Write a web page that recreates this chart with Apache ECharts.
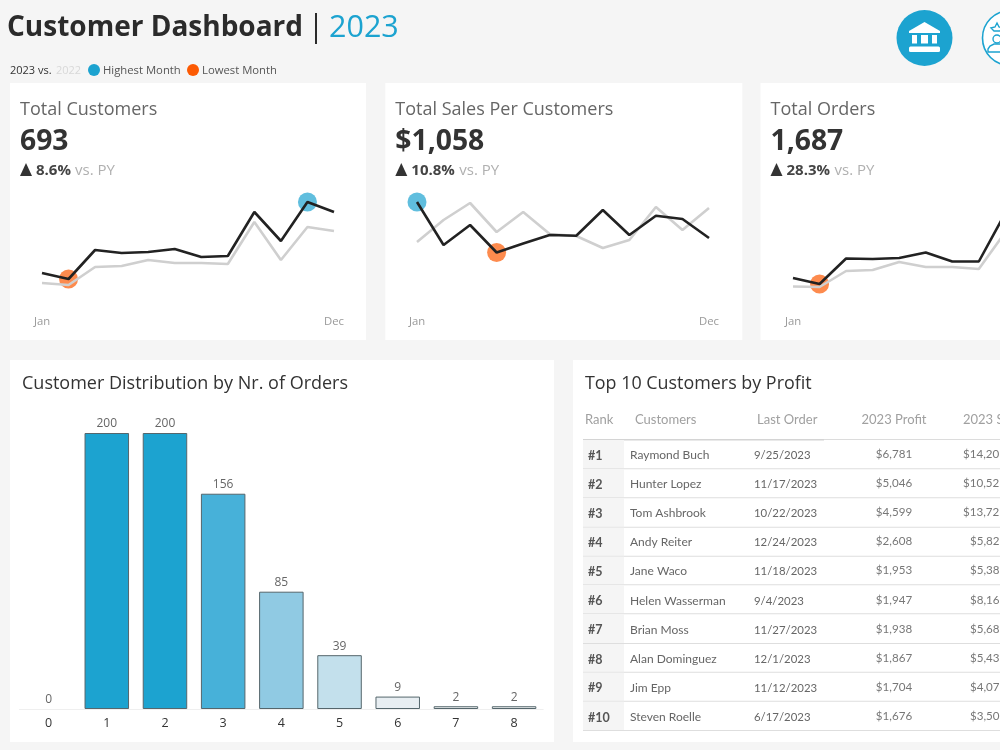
<!DOCTYPE html>
<html><head><meta charset="utf-8">
<style>html,body{margin:0;padding:0;background:#f5f5f5;overflow:hidden}#c{width:1000px;height:750px}</style>
<script src="https://cdn.jsdelivr.net/npm/echarts@6/dist/echarts.min.js"></script>
</head><body><div id="c"></div>
<script>
const months = ['Jan','Feb','Mar','Apr','May','Jun','Jul','Aug','Sep','Oct','Nov','Dec'];
const customers2023 = [37,31,60,57,58,61,53,54,98,69,108,98];
const customers2022 = [27,25,43,44,50,47,47,46,88,50,83,79];
const sales2023 = [1080,650,850,575,665,750,743,1000,750,943,910,720];
const sales2022 = [680,900,1070,780,980,760,740,620,700,1030,800,1020];
const orders2023 = [64,52,103,102,104,115,97,97,194];
const orders2022 = [47,46,78,80,96,86,86,82,156];
const orderBuckets = ['0','1','2','3','4','5','6','7','8'];
const customerCounts = [0,200,200,156,85,39,9,2,2];
const barColors = ['#1ca3d0','#1ca3d0','#1ca3d0','#47b1d9','#90cae3','#c3e0ec','#e8eef2','#f0f3f5','#f0f3f5'];
const ranks = ['#1','#2','#3','#4','#5','#6','#7','#8','#9','#10'];
const names = ['Raymond Buch','Hunter Lopez','Tom Ashbrook','Andy Reiter','Jane Waco','Helen Wasserman','Brian Moss','Alan Dominguez','Jim Epp','Steven Roelle'];
const lastOrders = ['9/25/2023','11/17/2023','10/22/2023','12/24/2023','11/18/2023','9/4/2023','11/27/2023','12/1/2023','11/12/2023','6/17/2023'];
const profits = ['$6,781','$5,046','$4,599','$2,608','$1,953','$1,947','$1,938','$1,867','$1,704','$1,676'];
const salesCol = ['$14,20','$10,52','$13,72','$5,82','$5,38','$8,16','$5,68','$5,43','$4,07','$3,50'];
const rowCenters = [455,484,513,542,571,600.5,629.5,659,687.5,717];
const rowLines = [468.3,497.3,526.7,555.7,584.3,613.3,643,671.7,700.7,730];

const F = '"Open Sans"', L = 'Lato';
const BLUE = '#1ca3d0', ORANGE = '#fc5a03';
const g = [];
const T = (x,y,text,size,fill,weight,align,font) => g.push({type:'text',x,y,z:1,silent:true,style:{text,fill,
  font:(weight||'normal')+' '+size+'px '+(font||F),textAlign:align||'left',textVerticalAlign:'middle'}});
const R = (x,y,w,h,fill) => g.push({type:'rect',z:0,silent:true,shape:{x,y,width:w,height:h},style:{fill}});
const C = (cx,cy,r,style) => g.push({type:'circle',z:1,silent:true,shape:{cx,cy,r},style});

// header
T(7,28,'Customer Dashboard',28,'#2b2b2b','bold');
R(315,13,2,31,'#2b2b2b');
T(329,28,'2023',30.5,BLUE);
T(10,71,'2023 vs.',11,'#333');
T(56,71,'2022',11,'#d8d8d8');
C(94,70,6,{fill:BLUE});
T(103,71,'Highest Month',11.3,'#555');
C(193,70,6,{fill:ORANGE});
T(202,71,'Lowest Month',11.3,'#555');

// icons
C(924.5,38,28,{fill:BLUE});
g.push({type:'polygon',z:2,silent:true,shape:{points:[[924.5,22],[940,31],[940,33],[909,33],[909,31]]},style:{fill:'#fff'}});
[[912,5],[921,7],[932,5]].forEach(([x,w])=>g.push({type:'rect',z:2,silent:true,shape:{x,y:35,width:w,height:8.5},style:{fill:'#fff'}}));
g.push({type:'rect',z:2,silent:true,shape:{x:909,y:46.5,width:31,height:5.5,r:1.5},style:{fill:'#fff'}});
C(1010,38,27.5,{fill:'#fff',stroke:BLUE,lineWidth:1.6});
C(997,39,4,{fill:'#fff',stroke:BLUE,lineWidth:1.4});
g.push({type:'polygon',z:2,silent:true,shape:{points:[[997,23],[999,27],[1003,28],[1000,31],[994,31],[991,28],[995,27]]},style:{fill:'#fff',stroke:BLUE,lineWidth:1.4}});
g.push({type:'polygon',z:2,silent:true,shape:{points:[[988,52],[988,49],[990,46],[994,44],[1006,44],[1006,52]]},style:{fill:'#fff',stroke:BLUE,lineWidth:1.4}});

// KPI cards
const cards = [
 {x:10,w:356,title:'Total Customers',value:'693',pct:'8.6%',pctW:36},
 {x:385.3,w:357,title:'Total Sales Per Customers',value:'$1,058',pct:'10.8%',pctW:45},
 {x:760.5,w:260,title:'Total Orders',value:'1,687',pct:'28.3%',pctW:45}
];
cards.forEach(c=>{
  R(c.x,83,c.w,257,'#fff');
  const tx=c.x+10;
  T(tx,110,c.title,18,'#666');
  T(tx,142,c.value,28.3,'#333','bold');
  g.push({type:'polygon',z:1,silent:true,shape:{points:[[tx+6,163],[tx+12,176],[tx,176]]},style:{fill:'#333'}});
  T(tx+16,171,c.pct,15,'#444','bold');
  T(tx+16+c.pctW+3,171,'vs. PY',15,'#b0b0b0');
});

// bottom cards
R(10,360,544,382,'#fff');
R(573,360,440,382,'#fff');
T(22,384,'Customer Distribution by Nr. of Orders',18,'#333');
T(585,384,'Top 10 Customers by Profit',17.9,'#333');

// table
const H='#a0a0a0';
T(585,419.5,'Rank',13,H,'normal','left',L); T(635,419.5,'Customers',13,H,'normal','left',L); T(757,419.5,'Last Order',13,H,'normal','left',L);
T(894,419.5,'2023 Profit',13,H,'normal','center',L); T(963,419.5,'2023 Sales',13,H,'normal','left',L);
R(583,439,241,1.6,'#d4d4d4'); R(824,439,176,1,'#dcdcdc');
ranks.forEach((r,i)=>{
  const top = i===0 ? 440 : rowLines[i-1]+1;
  R(583,top,41,rowLines[i]-top,'#f5f5f5');
  R(583,rowLines[i],417,1,'#dedede');
  const y=rowCenters[i]+0.5;
  T(588,y,r,12.5,'#555','bold','left',L);
  T(630,y,names[i],12,'#666','normal','left',L);
  T(754,y,lastOrders[i],11.4,'#666','normal','left',L);
  T(894,y-1,profits[i],11.6,'#777','normal','center',L);
  T(salesCol[i].length>5?963:970,y-1,salesCol[i],11.6,'#777','normal','left',L);
});

// sparkline grids
const sparks = [
 {left:42,top:190,max:120,cur:customers2023,prev:customers2022,hi:10,lo:1},
 {left:417,top:190,max:1200,cur:sales2023,prev:sales2022,hi:0,lo:3},
 {left:793,top:190,max:240,cur:orders2023,prev:orders2022,hi:null,lo:1}
];
const grids=[],xs=[],ys=[],series=[];
sparks.forEach((s,i)=>{
  grids.push({left:s.left,top:s.top,width:292,height:120,outerBoundsMode:'none'});
  xs.push({type:'category',gridIndex:i,data:months,boundaryGap:false,axisLine:{show:false},axisTick:{show:false},
    axisLabel:{interval:(idx)=>idx===0||idx===11,color:'#999',fontFamily:F,fontSize:11.3,margin:6,hideOverlap:false}});
  ys.push({type:'value',gridIndex:i,min:0,max:s.max,show:false});
  const base={type:'line',xAxisIndex:i,yAxisIndex:i,symbol:'none',silent:true,animation:false,clip:false};
  series.push({...base,data:s.prev,lineStyle:{color:'#cfcfcf',width:2.6}});
  const pts=[];
  if(s.hi!==null) pts.push({value:[s.hi,s.cur[s.hi]],itemStyle:{color:BLUE,opacity:.7}});
  pts.push({value:[s.lo,s.cur[s.lo]],itemStyle:{color:ORANGE,opacity:.7}});
  series.push({type:'scatter',xAxisIndex:i,yAxisIndex:i,symbolSize:19,data:pts,silent:true,animation:false});
  series.push({...base,data:s.cur,lineStyle:{color:'#222',width:2.6}});
});

// bars
grids.push({left:19.5,top:433,width:523.7,height:276,outerBoundsMode:'none'});
xs.push({type:'category',gridIndex:3,data:orderBuckets,axisLine:{lineStyle:{color:'#efefef'}},axisTick:{show:false},
  axisLabel:{color:'#333',fontFamily:F,fontSize:12.5,margin:8}});
ys.push({type:'value',gridIndex:3,min:0,max:200,show:false});
series.push({type:'bar',xAxisIndex:3,yAxisIndex:3,barWidth:44.5,animation:false,silent:true,
  data:customerCounts.map((v,i)=>({value:v,itemStyle:{color:barColors[i],borderColor:'#55666c',borderWidth:v?1:0}})),
  label:{show:true,position:'top',distance:3,color:'#666',fontFamily:F,fontSize:12}});

const chart=echarts.init(document.getElementById('c'),null,{renderer:'canvas'});
chart.setOption({animation:false,backgroundColor:'#f5f5f5',textStyle:{fontFamily:F},
  grid:grids,xAxis:xs,yAxis:ys,series,graphic:{elements:g}});
</script></body></html>
